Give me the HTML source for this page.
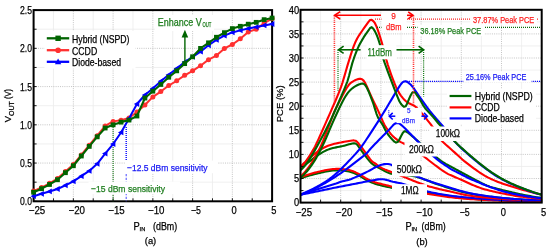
<!DOCTYPE html>
<html lang="en">
<head>
<meta charset="utf-8">
<title>Figure: VOUT and PCE versus PIN</title>
<style>
html,body{margin:0;padding:0;background:#fff;}
body{width:550px;height:250px;overflow:hidden;}
svg{display:block;}
</style>
</head>
<body>
<svg width="550" height="250" viewBox="0 0 550 250" font-family="'Liberation Sans', Arial, Helvetica, sans-serif">
<rect x="0" y="0" width="550" height="250" fill="#ffffff"/>
<g id="plot-a">
<line x1="53.48" y1="201.3" x2="53.48" y2="10.1" stroke="#ececec" stroke-width="0.8"/>
<line x1="93.23" y1="201.3" x2="93.23" y2="10.1" stroke="#ececec" stroke-width="0.8"/>
<line x1="132.98" y1="201.3" x2="132.98" y2="10.1" stroke="#ececec" stroke-width="0.8"/>
<line x1="172.73" y1="201.3" x2="172.73" y2="10.1" stroke="#ececec" stroke-width="0.8"/>
<line x1="212.48" y1="201.3" x2="212.48" y2="10.1" stroke="#ececec" stroke-width="0.8"/>
<line x1="252.23" y1="201.3" x2="252.23" y2="10.1" stroke="#ececec" stroke-width="0.8"/>
<line x1="33.6" y1="182.18" x2="272.1" y2="182.18" stroke="#ececec" stroke-width="0.8"/>
<line x1="33.6" y1="143.94" x2="272.1" y2="143.94" stroke="#ececec" stroke-width="0.8"/>
<line x1="33.6" y1="105.7" x2="272.1" y2="105.7" stroke="#ececec" stroke-width="0.8"/>
<line x1="33.6" y1="67.46" x2="272.1" y2="67.46" stroke="#ececec" stroke-width="0.8"/>
<line x1="33.6" y1="29.22" x2="272.1" y2="29.22" stroke="#ececec" stroke-width="0.8"/>
<line x1="73.35" y1="201.3" x2="73.35" y2="10.1" stroke="#b6b6b6" stroke-width="0.8" stroke-dasharray="1 1.2"/>
<line x1="113.1" y1="201.3" x2="113.1" y2="10.1" stroke="#b6b6b6" stroke-width="0.8" stroke-dasharray="1 1.2"/>
<line x1="152.85" y1="201.3" x2="152.85" y2="10.1" stroke="#b6b6b6" stroke-width="0.8" stroke-dasharray="1 1.2"/>
<line x1="192.6" y1="201.3" x2="192.6" y2="10.1" stroke="#b6b6b6" stroke-width="0.8" stroke-dasharray="1 1.2"/>
<line x1="232.35" y1="201.3" x2="232.35" y2="10.1" stroke="#b6b6b6" stroke-width="0.8" stroke-dasharray="1 1.2"/>
<line x1="33.6" y1="163.06" x2="272.1" y2="163.06" stroke="#b6b6b6" stroke-width="0.8" stroke-dasharray="1 1.2"/>
<line x1="33.6" y1="124.82" x2="272.1" y2="124.82" stroke="#b6b6b6" stroke-width="0.8" stroke-dasharray="1 1.2"/>
<line x1="33.6" y1="86.58" x2="272.1" y2="86.58" stroke="#b6b6b6" stroke-width="0.8" stroke-dasharray="1 1.2"/>
<line x1="33.6" y1="48.34" x2="272.1" y2="48.34" stroke="#b6b6b6" stroke-width="0.8" stroke-dasharray="1 1.2"/>
<rect x="33.6" y="10.1" width="238.5" height="191.2" fill="none" stroke="#000" stroke-width="2"/>
<line x1="33.6" y1="201.3" x2="33.6" y2="198.3" stroke="#000" stroke-width="0.9"/>
<line x1="53.48" y1="201.3" x2="53.48" y2="198.3" stroke="#000" stroke-width="0.9"/>
<line x1="73.35" y1="201.3" x2="73.35" y2="198.3" stroke="#000" stroke-width="0.9"/>
<line x1="93.23" y1="201.3" x2="93.23" y2="198.3" stroke="#000" stroke-width="0.9"/>
<line x1="113.1" y1="201.3" x2="113.1" y2="198.3" stroke="#000" stroke-width="0.9"/>
<line x1="132.98" y1="201.3" x2="132.98" y2="198.3" stroke="#000" stroke-width="0.9"/>
<line x1="152.85" y1="201.3" x2="152.85" y2="198.3" stroke="#000" stroke-width="0.9"/>
<line x1="172.73" y1="201.3" x2="172.73" y2="198.3" stroke="#000" stroke-width="0.9"/>
<line x1="192.6" y1="201.3" x2="192.6" y2="198.3" stroke="#000" stroke-width="0.9"/>
<line x1="212.48" y1="201.3" x2="212.48" y2="198.3" stroke="#000" stroke-width="0.9"/>
<line x1="232.35" y1="201.3" x2="232.35" y2="198.3" stroke="#000" stroke-width="0.9"/>
<line x1="252.23" y1="201.3" x2="252.23" y2="198.3" stroke="#000" stroke-width="0.9"/>
<line x1="272.1" y1="201.3" x2="272.1" y2="198.3" stroke="#000" stroke-width="0.9"/>
<line x1="33.6" y1="201.3" x2="36.6" y2="201.3" stroke="#000" stroke-width="0.9"/>
<line x1="33.6" y1="182.18" x2="36.6" y2="182.18" stroke="#000" stroke-width="0.9"/>
<line x1="33.6" y1="163.06" x2="36.6" y2="163.06" stroke="#000" stroke-width="0.9"/>
<line x1="33.6" y1="143.94" x2="36.6" y2="143.94" stroke="#000" stroke-width="0.9"/>
<line x1="33.6" y1="124.82" x2="36.6" y2="124.82" stroke="#000" stroke-width="0.9"/>
<line x1="33.6" y1="105.7" x2="36.6" y2="105.7" stroke="#000" stroke-width="0.9"/>
<line x1="33.6" y1="86.58" x2="36.6" y2="86.58" stroke="#000" stroke-width="0.9"/>
<line x1="33.6" y1="67.46" x2="36.6" y2="67.46" stroke="#000" stroke-width="0.9"/>
<line x1="33.6" y1="48.34" x2="36.6" y2="48.34" stroke="#000" stroke-width="0.9"/>
<line x1="33.6" y1="29.22" x2="36.6" y2="29.22" stroke="#000" stroke-width="0.9"/>
<line x1="33.6" y1="10.1" x2="36.6" y2="10.1" stroke="#000" stroke-width="0.9"/>
<line x1="113.1" y1="127" x2="113.1" y2="201.3" stroke="#1e7d1e" stroke-width="1.15" stroke-dasharray="1 1"/>
<line x1="126.2" y1="127" x2="126.2" y2="160" stroke="#0000ff" stroke-width="1.4" stroke-dasharray="1 1"/>
<line x1="126.2" y1="174" x2="126.2" y2="201.3" stroke="#5a5aff" stroke-width="1.1" stroke-dasharray="2.2 1.6"/>
<polyline points="33.6,191.05 41.55,187.53 49.5,183.33 57.45,178.59 65.4,171.55 73.35,164.59 81.3,154.88 89.25,145.24 97.2,135.68 105.15,125.97 113.1,121.38 121.05,120.23 129,117.94 136.95,112.05 144.9,104.94 152.85,96.9 160.8,91.55 168.75,85.51 176.7,80.77 184.65,75.34 192.6,70.83 200.55,65.7 208.5,59.66 216.45,55.61 224.4,48.42 232.35,44.52 240.3,38.86 248.25,31.9 256.2,29.22 264.15,23.1 272.1,18.51" fill="none" stroke="#ff3030" stroke-width="2" stroke-linejoin="round" stroke-linecap="round"/>
<circle cx="33.6" cy="191.05" r="2.5" fill="#ff3030"/>
<circle cx="41.55" cy="187.53" r="2.5" fill="#ff3030"/>
<circle cx="49.5" cy="183.33" r="2.5" fill="#ff3030"/>
<circle cx="57.45" cy="178.59" r="2.5" fill="#ff3030"/>
<circle cx="65.4" cy="171.55" r="2.5" fill="#ff3030"/>
<circle cx="73.35" cy="164.59" r="2.5" fill="#ff3030"/>
<circle cx="81.3" cy="154.88" r="2.5" fill="#ff3030"/>
<circle cx="89.25" cy="145.24" r="2.5" fill="#ff3030"/>
<circle cx="97.2" cy="135.68" r="2.5" fill="#ff3030"/>
<circle cx="105.15" cy="125.97" r="2.5" fill="#ff3030"/>
<circle cx="113.1" cy="121.38" r="2.5" fill="#ff3030"/>
<circle cx="121.05" cy="120.23" r="2.5" fill="#ff3030"/>
<circle cx="129" cy="117.94" r="2.5" fill="#ff3030"/>
<circle cx="136.95" cy="112.05" r="2.5" fill="#ff3030"/>
<circle cx="144.9" cy="104.94" r="2.5" fill="#ff3030"/>
<circle cx="152.85" cy="96.9" r="2.5" fill="#ff3030"/>
<circle cx="160.8" cy="91.55" r="2.5" fill="#ff3030"/>
<circle cx="168.75" cy="85.51" r="2.5" fill="#ff3030"/>
<circle cx="176.7" cy="80.77" r="2.5" fill="#ff3030"/>
<circle cx="184.65" cy="75.34" r="2.5" fill="#ff3030"/>
<circle cx="192.6" cy="70.83" r="2.5" fill="#ff3030"/>
<circle cx="200.55" cy="65.7" r="2.5" fill="#ff3030"/>
<circle cx="208.5" cy="59.66" r="2.5" fill="#ff3030"/>
<circle cx="216.45" cy="55.61" r="2.5" fill="#ff3030"/>
<circle cx="224.4" cy="48.42" r="2.5" fill="#ff3030"/>
<circle cx="232.35" cy="44.52" r="2.5" fill="#ff3030"/>
<circle cx="240.3" cy="38.86" r="2.5" fill="#ff3030"/>
<circle cx="248.25" cy="31.9" r="2.5" fill="#ff3030"/>
<circle cx="256.2" cy="29.22" r="2.5" fill="#ff3030"/>
<circle cx="264.15" cy="23.1" r="2.5" fill="#ff3030"/>
<circle cx="272.1" cy="18.51" r="2.5" fill="#ff3030"/>
<polyline points="33.6,196.18 41.55,193.8 49.5,191.43 57.45,188.99 65.4,185.32 73.35,181.34 81.3,176.21 89.25,170.94 97.2,163.82 105.15,153.58 113.1,144.02 121.05,132.47 129,118.4 136.95,104.02 144.9,94.99 152.85,88.42 160.8,81.23 168.75,74.8 176.7,68.45 184.65,62.11 192.6,56.91 200.55,51.63 208.5,45.28 216.45,39.93 224.4,35.64 232.35,32.43 240.3,30.37 248.25,28.46 256.2,27.08 264.15,25.4 272.1,24.02" fill="none" stroke="#0000ff" stroke-width="2" stroke-linejoin="round" stroke-linecap="round"/>
<polygon points="30.5,196.18 35.9,193.28 35.9,199.08" fill="#0000ff"/>
<polygon points="38.45,193.8 43.85,190.9 43.85,196.7" fill="#0000ff"/>
<polygon points="46.4,191.43 51.8,188.53 51.8,194.33" fill="#0000ff"/>
<polygon points="54.35,188.99 59.75,186.09 59.75,191.89" fill="#0000ff"/>
<polygon points="62.3,185.32 67.7,182.42 67.7,188.22" fill="#0000ff"/>
<polygon points="70.25,181.34 75.65,178.44 75.65,184.24" fill="#0000ff"/>
<polygon points="78.2,176.21 83.6,173.31 83.6,179.11" fill="#0000ff"/>
<polygon points="86.15,170.94 91.55,168.04 91.55,173.84" fill="#0000ff"/>
<polygon points="94.1,163.82 99.5,160.92 99.5,166.72" fill="#0000ff"/>
<polygon points="102.05,153.58 107.45,150.68 107.45,156.48" fill="#0000ff"/>
<polygon points="110,144.02 115.4,141.12 115.4,146.92" fill="#0000ff"/>
<polygon points="117.95,132.47 123.35,129.57 123.35,135.37" fill="#0000ff"/>
<polygon points="125.9,118.4 131.3,115.5 131.3,121.3" fill="#0000ff"/>
<polygon points="133.85,104.02 139.25,101.12 139.25,106.92" fill="#0000ff"/>
<polygon points="141.8,94.99 147.2,92.09 147.2,97.89" fill="#0000ff"/>
<polygon points="149.75,88.42 155.15,85.52 155.15,91.32" fill="#0000ff"/>
<polygon points="157.7,81.23 163.1,78.33 163.1,84.13" fill="#0000ff"/>
<polygon points="165.65,74.8 171.05,71.9 171.05,77.7" fill="#0000ff"/>
<polygon points="173.6,68.45 179,65.55 179,71.35" fill="#0000ff"/>
<polygon points="181.55,62.11 186.95,59.21 186.95,65.01" fill="#0000ff"/>
<polygon points="189.5,56.91 194.9,54.01 194.9,59.81" fill="#0000ff"/>
<polygon points="197.45,51.63 202.85,48.73 202.85,54.53" fill="#0000ff"/>
<polygon points="205.4,45.28 210.8,42.38 210.8,48.18" fill="#0000ff"/>
<polygon points="213.35,39.93 218.75,37.03 218.75,42.83" fill="#0000ff"/>
<polygon points="221.3,35.64 226.7,32.74 226.7,38.54" fill="#0000ff"/>
<polygon points="229.25,32.43 234.65,29.53 234.65,35.33" fill="#0000ff"/>
<polygon points="237.2,30.37 242.6,27.47 242.6,33.27" fill="#0000ff"/>
<polygon points="245.15,28.46 250.55,25.56 250.55,31.36" fill="#0000ff"/>
<polygon points="253.1,27.08 258.5,24.18 258.5,29.98" fill="#0000ff"/>
<polygon points="261.05,25.4 266.45,22.5 266.45,28.3" fill="#0000ff"/>
<polygon points="269,24.02 274.4,21.12 274.4,26.92" fill="#0000ff"/>
<polyline points="33.6,192.2 41.55,188.68 49.5,184.47 57.45,179.73 65.4,172.7 73.35,165.74 81.3,156.02 89.25,146.39 97.2,136.83 105.15,128.03 113.1,124.82 121.05,122.14 129,120.08 136.95,116.02 144.9,98.05 152.85,91.17 160.8,84.44 168.75,77.25 176.7,70.83 184.65,63.64 192.6,56.75 200.55,48.42 208.5,42.83 216.45,37.25 224.4,32.66 232.35,28.61 240.3,26.31 248.25,24.17 256.2,22.34 264.15,19.66 272.1,18.05" fill="none" stroke="#006400" stroke-width="2.1" stroke-linejoin="round" stroke-linecap="round"/>
<rect x="31.2" y="189.8" width="4.8" height="4.8" fill="#006400"/>
<rect x="39.15" y="186.28" width="4.8" height="4.8" fill="#006400"/>
<rect x="47.1" y="182.07" width="4.8" height="4.8" fill="#006400"/>
<rect x="55.05" y="177.33" width="4.8" height="4.8" fill="#006400"/>
<rect x="63" y="170.3" width="4.8" height="4.8" fill="#006400"/>
<rect x="70.95" y="163.34" width="4.8" height="4.8" fill="#006400"/>
<rect x="78.9" y="153.62" width="4.8" height="4.8" fill="#006400"/>
<rect x="86.85" y="143.99" width="4.8" height="4.8" fill="#006400"/>
<rect x="94.8" y="134.43" width="4.8" height="4.8" fill="#006400"/>
<rect x="102.75" y="125.63" width="4.8" height="4.8" fill="#006400"/>
<rect x="110.7" y="122.42" width="4.8" height="4.8" fill="#006400"/>
<rect x="118.65" y="119.74" width="4.8" height="4.8" fill="#006400"/>
<rect x="126.6" y="117.68" width="4.8" height="4.8" fill="#006400"/>
<rect x="134.55" y="113.62" width="4.8" height="4.8" fill="#006400"/>
<rect x="142.5" y="95.65" width="4.8" height="4.8" fill="#006400"/>
<rect x="150.45" y="88.77" width="4.8" height="4.8" fill="#006400"/>
<rect x="158.4" y="82.04" width="4.8" height="4.8" fill="#006400"/>
<rect x="166.35" y="74.85" width="4.8" height="4.8" fill="#006400"/>
<rect x="174.3" y="68.43" width="4.8" height="4.8" fill="#006400"/>
<rect x="182.25" y="61.24" width="4.8" height="4.8" fill="#006400"/>
<rect x="190.2" y="54.35" width="4.8" height="4.8" fill="#006400"/>
<rect x="198.15" y="46.02" width="4.8" height="4.8" fill="#006400"/>
<rect x="206.1" y="40.43" width="4.8" height="4.8" fill="#006400"/>
<rect x="214.05" y="34.85" width="4.8" height="4.8" fill="#006400"/>
<rect x="222" y="30.26" width="4.8" height="4.8" fill="#006400"/>
<rect x="229.95" y="26.21" width="4.8" height="4.8" fill="#006400"/>
<rect x="237.9" y="23.91" width="4.8" height="4.8" fill="#006400"/>
<rect x="245.85" y="21.77" width="4.8" height="4.8" fill="#006400"/>
<rect x="253.8" y="19.94" width="4.8" height="4.8" fill="#006400"/>
<rect x="261.75" y="17.26" width="4.8" height="4.8" fill="#006400"/>
<rect x="269.7" y="15.65" width="4.8" height="4.8" fill="#006400"/>
<text x="32" y="205.3" font-size="11" fill="#000" stroke="#000" stroke-width="0.25" text-anchor="end" textLength="12" lengthAdjust="spacingAndGlyphs">0.0</text>
<text x="32" y="167.06" font-size="11" fill="#000" stroke="#000" stroke-width="0.25" text-anchor="end" textLength="12" lengthAdjust="spacingAndGlyphs">0.5</text>
<text x="32" y="128.82" font-size="11" fill="#000" stroke="#000" stroke-width="0.25" text-anchor="end" textLength="12" lengthAdjust="spacingAndGlyphs">1.0</text>
<text x="32" y="90.58" font-size="11" fill="#000" stroke="#000" stroke-width="0.25" text-anchor="end" textLength="12" lengthAdjust="spacingAndGlyphs">1.5</text>
<text x="32" y="52.34" font-size="11" fill="#000" stroke="#000" stroke-width="0.25" text-anchor="end" textLength="12" lengthAdjust="spacingAndGlyphs">2.0</text>
<text x="32" y="14.1" font-size="11" fill="#000" stroke="#000" stroke-width="0.25" text-anchor="end" textLength="12" lengthAdjust="spacingAndGlyphs">2.5</text>
<text x="37" y="214.2" font-size="10.8" fill="#000" stroke="#000" stroke-width="0.25" text-anchor="middle" textLength="16.5" lengthAdjust="spacingAndGlyphs">−25</text>
<text x="76.75" y="214.2" font-size="10.8" fill="#000" stroke="#000" stroke-width="0.25" text-anchor="middle" textLength="16.5" lengthAdjust="spacingAndGlyphs">−20</text>
<text x="116.5" y="214.2" font-size="10.8" fill="#000" stroke="#000" stroke-width="0.25" text-anchor="middle" textLength="16.5" lengthAdjust="spacingAndGlyphs">−15</text>
<text x="156.25" y="214.2" font-size="10.8" fill="#000" stroke="#000" stroke-width="0.25" text-anchor="middle" textLength="16.5" lengthAdjust="spacingAndGlyphs">−10</text>
<text x="196" y="214.2" font-size="10.8" fill="#000" stroke="#000" stroke-width="0.25" text-anchor="middle" textLength="10" lengthAdjust="spacingAndGlyphs">−5</text>
<text x="234.15" y="214.2" font-size="10.8" fill="#000" stroke="#000" stroke-width="0.25" text-anchor="middle" textLength="5.2" lengthAdjust="spacingAndGlyphs">0</text>
<text x="273.9" y="214.2" font-size="10.8" fill="#000" stroke="#000" stroke-width="0.25" text-anchor="middle" textLength="5.2" lengthAdjust="spacingAndGlyphs">5</text>
<text x="133.6" y="230.3" font-size="10" fill="#000" stroke="#000" stroke-width="0.25" textLength="6.2" lengthAdjust="spacingAndGlyphs">P</text>
<text x="139.6" y="231.3" font-size="6" fill="#000" stroke="#000" stroke-width="0.25" textLength="5.6" lengthAdjust="spacingAndGlyphs">IN</text>
<text x="153" y="230.3" font-size="10" fill="#000" stroke="#000" stroke-width="0.25" textLength="24.2" lengthAdjust="spacingAndGlyphs">(dBm)</text>
<text x="150.5" y="244.3" font-size="9.5" fill="#000" stroke="#000" stroke-width="0.25" text-anchor="middle" textLength="11.5" lengthAdjust="spacingAndGlyphs">(a)</text>
<g transform="translate(11.4,122.2) rotate(-90)">
<text x="0" y="0" font-size="9.6" fill="#000" stroke="#000" stroke-width="0.25" textLength="6.2" lengthAdjust="spacingAndGlyphs">V</text>
<text x="6.2" y="2.9" font-size="6.9" fill="#000" stroke="#000" stroke-width="0.25" textLength="14.8" lengthAdjust="spacingAndGlyphs">OUT</text>
<text x="23.3" y="0" font-size="9.6" fill="#000" stroke="#000" stroke-width="0.25" textLength="10" lengthAdjust="spacingAndGlyphs">(V)</text>
</g>
<rect x="44.5" y="31" width="91" height="37.5" fill="#fff"/>
<line x1="46.8" y1="38.3" x2="69.2" y2="38.3" stroke="#006400" stroke-width="2.3"/>
<rect x="55.4" y="35.6" width="5.4" height="5.4" fill="#006400"/>
<text x="72" y="42.6" font-size="10.3" fill="#000" stroke="#000" stroke-width="0.25" textLength="57.5" lengthAdjust="spacingAndGlyphs">Hybrid (NSPD)</text>
<line x1="46.8" y1="50.2" x2="69.2" y2="50.2" stroke="#ff3030" stroke-width="2.3"/>
<circle cx="58.1" cy="50.2" r="2.8" fill="#ff3030"/>
<text x="72" y="54.5" font-size="10.3" fill="#000" stroke="#000" stroke-width="0.25" textLength="25.2" lengthAdjust="spacingAndGlyphs">CCDD</text>
<line x1="46.8" y1="61.8" x2="69.2" y2="61.8" stroke="#0000ff" stroke-width="2.3"/>
<polygon points="58.1,58.4 54.9,64.3 61.3,64.3" fill="#0000ff"/>
<text x="72" y="66.1" font-size="10.3" fill="#000" stroke="#000" stroke-width="0.25" textLength="49" lengthAdjust="spacingAndGlyphs">Diode-based</text>
<rect x="155" y="15" width="59" height="16" fill="#fff"/>
<text x="157.8" y="25.6" font-size="10.3" fill="#1e7d1e" stroke="#1e7d1e" stroke-width="0.25" textLength="44" lengthAdjust="spacingAndGlyphs">Enhance V</text>
<text x="202.4" y="26.5" font-size="6.3" fill="#1e7d1e" stroke="#1e7d1e" stroke-width="0.25" textLength="8.8" lengthAdjust="spacingAndGlyphs">OUT</text>
<line x1="184.9" y1="63" x2="184.9" y2="34" stroke="#006400" stroke-width="1.4"/>
<polygon points="184.9,29.8 181.6,37.4 188.2,37.4" fill="#006400"/>
<rect x="88.5" y="181.6" width="91.5" height="12.4" fill="#fff"/>
<rect x="125" y="160.6" width="93" height="12.6" fill="#fff"/>
<text x="91" y="192" font-size="9.6" fill="#1e7d1e" stroke="#1e7d1e" stroke-width="0.25" textLength="74" lengthAdjust="spacingAndGlyphs">−15 dBm sensitivity</text>
<text x="127" y="170.8" font-size="9.6" fill="#1818f4" stroke="#1818f4" stroke-width="0.25" textLength="80.5" lengthAdjust="spacingAndGlyphs">−12.5 dBm sensitivity</text>
</g>
<g id="plot-b">
<line x1="320.6" y1="202.6" x2="320.6" y2="9.8" stroke="#ececec" stroke-width="0.8"/>
<line x1="360.8" y1="202.6" x2="360.8" y2="9.8" stroke="#ececec" stroke-width="0.8"/>
<line x1="401" y1="202.6" x2="401" y2="9.8" stroke="#ececec" stroke-width="0.8"/>
<line x1="441.2" y1="202.6" x2="441.2" y2="9.8" stroke="#ececec" stroke-width="0.8"/>
<line x1="481.4" y1="202.6" x2="481.4" y2="9.8" stroke="#ececec" stroke-width="0.8"/>
<line x1="521.6" y1="202.6" x2="521.6" y2="9.8" stroke="#ececec" stroke-width="0.8"/>
<line x1="300.5" y1="190.55" x2="541.7" y2="190.55" stroke="#ececec" stroke-width="0.8"/>
<line x1="300.5" y1="166.45" x2="541.7" y2="166.45" stroke="#ececec" stroke-width="0.8"/>
<line x1="300.5" y1="142.35" x2="541.7" y2="142.35" stroke="#ececec" stroke-width="0.8"/>
<line x1="300.5" y1="118.25" x2="541.7" y2="118.25" stroke="#ececec" stroke-width="0.8"/>
<line x1="300.5" y1="94.15" x2="541.7" y2="94.15" stroke="#ececec" stroke-width="0.8"/>
<line x1="300.5" y1="70.05" x2="541.7" y2="70.05" stroke="#ececec" stroke-width="0.8"/>
<line x1="300.5" y1="45.95" x2="541.7" y2="45.95" stroke="#ececec" stroke-width="0.8"/>
<line x1="300.5" y1="21.85" x2="541.7" y2="21.85" stroke="#ececec" stroke-width="0.8"/>
<line x1="340.7" y1="202.6" x2="340.7" y2="9.8" stroke="#b6b6b6" stroke-width="0.8" stroke-dasharray="1 1.2"/>
<line x1="380.9" y1="202.6" x2="380.9" y2="9.8" stroke="#b6b6b6" stroke-width="0.8" stroke-dasharray="1 1.2"/>
<line x1="421.1" y1="202.6" x2="421.1" y2="9.8" stroke="#b6b6b6" stroke-width="0.8" stroke-dasharray="1 1.2"/>
<line x1="461.3" y1="202.6" x2="461.3" y2="9.8" stroke="#b6b6b6" stroke-width="0.8" stroke-dasharray="1 1.2"/>
<line x1="501.5" y1="202.6" x2="501.5" y2="9.8" stroke="#b6b6b6" stroke-width="0.8" stroke-dasharray="1 1.2"/>
<line x1="300.5" y1="178.5" x2="541.7" y2="178.5" stroke="#b6b6b6" stroke-width="0.8" stroke-dasharray="1 1.2"/>
<line x1="300.5" y1="154.4" x2="541.7" y2="154.4" stroke="#b6b6b6" stroke-width="0.8" stroke-dasharray="1 1.2"/>
<line x1="300.5" y1="130.3" x2="541.7" y2="130.3" stroke="#b6b6b6" stroke-width="0.8" stroke-dasharray="1 1.2"/>
<line x1="300.5" y1="106.2" x2="541.7" y2="106.2" stroke="#b6b6b6" stroke-width="0.8" stroke-dasharray="1 1.2"/>
<line x1="300.5" y1="82.1" x2="541.7" y2="82.1" stroke="#b6b6b6" stroke-width="0.8" stroke-dasharray="1 1.2"/>
<line x1="300.5" y1="58" x2="541.7" y2="58" stroke="#b6b6b6" stroke-width="0.8" stroke-dasharray="1 1.2"/>
<line x1="300.5" y1="33.9" x2="541.7" y2="33.9" stroke="#b6b6b6" stroke-width="0.8" stroke-dasharray="1 1.2"/>
<clipPath id="clipb"><rect x="300.5" y="9.8" width="241.2" height="192.8"/></clipPath>
<g clip-path="url(#clipb)">
<polyline points="300.5,178.5 302.12,177.92 303.74,177.37 305.36,176.83 306.98,176.32 308.59,175.83 310.21,175.36 311.83,174.91 313.45,174.48 315.07,174.06 316.69,173.65 318.31,173.26 319.93,172.87 321.54,172.5 323.16,172.15 324.78,171.83 326.4,171.53 328.02,171.26 329.64,171 331.26,170.76 332.88,170.56 334.49,170.43 336.11,170.34 337.73,170.31 339.35,170.33 340.97,170.41 342.59,170.55 344.21,170.73 345.83,170.93 347.44,171.18 349.06,171.5 350.68,171.9 352.3,172.42 353.92,173.05 355.54,173.77 357.16,174.55 358.78,175.39 360.4,176.28 362.01,177.28 363.63,178.31 365.25,179.32 366.87,180.24 368.49,181.05 370.11,181.8 371.73,182.49 373.35,183.13 374.96,183.7 376.58,184.2 378.2,184.65 379.82,185.08 381.44,185.5 383.06,185.9 384.68,186.29 386.3,186.65 387.91,187 389.53,187.32 391.15,187.62 392.77,187.91 394.39,188.19 396.01,188.48 397.63,188.76 399.25,189.04 400.87,189.31 402.48,189.58 404.1,189.83 405.72,190.08 407.34,190.32 408.96,190.54 410.58,190.75 412.2,190.97 413.82,191.18 415.43,191.39 417.05,191.6 418.67,191.81 420.29,192.02 421.91,192.23 423.53,192.44 425.15,192.65 426.77,192.86 428.38,193.07 430,193.29 431.62,193.51 433.24,193.73 434.86,193.95 436.48,194.18 438.1,194.4 439.72,194.63 441.33,194.86 442.95,195.08 444.57,195.31 446.19,195.54 447.81,195.76 449.43,195.99 451.05,196.21 452.67,196.43 454.29,196.65 455.9,196.87 457.52,197.09 459.14,197.3 460.76,197.51 462.38,197.71 464,197.91 465.62,198.1 467.24,198.27 468.85,198.43 470.47,198.58 472.09,198.72 473.71,198.85 475.33,198.97 476.95,199.08 478.57,199.19 480.19,199.28 481.8,199.37 483.42,199.46 485.04,199.54 486.66,199.61 488.28,199.68 489.9,199.75 491.52,199.81 493.14,199.87 494.76,199.93 496.37,199.99 497.99,200.05 499.61,200.12 501.23,200.18 502.85,200.24 504.47,200.31 506.09,200.37 507.71,200.43 509.32,200.49 510.94,200.56 512.56,200.62 514.18,200.67 515.8,200.73 517.42,200.79 519.04,200.84 520.66,200.89 522.27,200.95 523.89,200.99 525.51,201.04 527.13,201.09 528.75,201.13 530.37,201.17 531.99,201.21 533.61,201.25 535.22,201.28 536.84,201.32 538.46,201.34 540.08,201.37 541.7,201.39" fill="none" stroke="#006400" stroke-width="2.1" stroke-linejoin="round" stroke-linecap="round"/>
<polyline points="300.5,177.05 302.12,176.48 303.74,175.92 305.36,175.39 306.98,174.88 308.59,174.39 310.21,173.92 311.83,173.47 313.45,173.03 315.07,172.61 316.69,172.21 318.31,171.81 319.93,171.43 321.54,171.06 323.16,170.71 324.78,170.39 326.4,170.09 328.02,169.81 329.64,169.55 331.26,169.31 332.88,169.12 334.49,168.98 336.11,168.9 337.73,168.86 339.35,168.88 340.97,168.97 342.59,169.11 344.21,169.28 345.83,169.48 347.44,169.73 349.06,170.05 350.68,170.46 352.3,170.97 353.92,171.6 355.54,172.32 357.16,173.11 358.78,173.94 360.4,174.84 362.01,175.84 363.63,176.87 365.25,177.88 366.87,178.8 368.49,179.6 370.11,180.35 371.73,181.06 373.35,181.7 374.96,182.27 376.58,182.76 378.2,183.18 379.82,183.6 381.44,184.02 383.06,184.43 384.68,184.83 386.3,185.23 387.91,185.63 389.53,186.02 391.15,186.41 392.77,186.79 394.39,187.17 396.01,187.55 397.63,187.94 399.25,188.32 400.87,188.7 402.48,189.07 404.1,189.44 405.72,189.81 407.34,190.17 408.96,190.53 410.58,190.88 412.2,191.21 413.82,191.54 415.43,191.85 417.05,192.15 418.67,192.44 420.29,192.72 421.91,193 423.53,193.27 425.15,193.54 426.77,193.8 428.38,194.06 430,194.32 431.62,194.57 433.24,194.83 434.86,195.07 436.48,195.32 438.1,195.56 439.72,195.79 441.33,196.02 442.95,196.25 444.57,196.47 446.19,196.68 447.81,196.89 449.43,197.09 451.05,197.29 452.67,197.48 454.29,197.66 455.9,197.84 457.52,198 459.14,198.16 460.76,198.32 462.38,198.46 464,198.59 465.62,198.72 467.24,198.85 468.85,198.97 470.47,199.09 472.09,199.2 473.71,199.31 475.33,199.42 476.95,199.52 478.57,199.62 480.19,199.72 481.8,199.81 483.42,199.89 485.04,199.98 486.66,200.06 488.28,200.14 489.9,200.21 491.52,200.29 493.14,200.36 494.76,200.42 496.37,200.49 497.99,200.55 499.61,200.61 501.23,200.66 502.85,200.72 504.47,200.77 506.09,200.82 507.71,200.88 509.32,200.93 510.94,200.98 512.56,201.03 514.18,201.08 515.8,201.13 517.42,201.17 519.04,201.22 520.66,201.26 522.27,201.3 523.89,201.34 525.51,201.38 527.13,201.42 528.75,201.45 530.37,201.48 531.99,201.51 533.61,201.54 535.22,201.56 536.84,201.59 538.46,201.6 540.08,201.62 541.7,201.64" fill="none" stroke="#ff0000" stroke-width="2.1" stroke-linejoin="round" stroke-linecap="round"/>
<polyline points="300.5,194.7 302.12,194.38 303.74,194.07 305.36,193.75 306.98,193.43 308.59,193.11 310.21,192.79 311.83,192.47 313.45,192.15 315.07,191.82 316.69,191.49 318.31,191.16 319.93,190.82 321.54,190.48 323.16,190.14 324.78,189.79 326.4,189.45 328.02,189.1 329.64,188.76 331.26,188.42 332.88,188.09 334.49,187.77 336.11,187.46 337.73,187.14 339.35,186.82 340.97,186.51 342.59,186.19 344.21,185.88 345.83,185.56 347.44,185.25 349.06,184.93 350.68,184.62 352.3,184.3 353.92,183.99 355.54,183.67 357.16,183.35 358.78,183.04 360.4,182.72 362.01,182.41 363.63,182.09 365.25,181.78 366.87,181.46 368.49,181.15 370.11,180.84 371.73,180.53 373.35,180.22 374.96,179.92 376.58,179.61 378.2,179.39 379.82,179.26 381.44,179.22 383.06,179.3 384.68,179.53 386.3,179.89 387.91,180.35 389.53,180.87 391.15,181.34 392.77,181.73 394.39,182.08 396.01,182.4 397.63,182.72 399.25,183.05 400.87,183.39 402.48,183.77 404.1,184.19 405.72,184.65 407.34,185.14 408.96,185.65 410.58,186.18 412.2,186.73 413.82,187.29 415.43,187.84 417.05,188.4 418.67,188.94 420.29,189.48 421.91,189.99 423.53,190.47 425.15,190.92 426.77,191.33 428.38,191.71 430,192.07 431.62,192.42 433.24,192.75 434.86,193.08 436.48,193.39 438.1,193.7 439.72,193.99 441.33,194.28 442.95,194.55 444.57,194.81 446.19,195.06 447.81,195.31 449.43,195.54 451.05,195.76 452.67,195.97 454.29,196.18 455.9,196.37 457.52,196.56 459.14,196.73 460.76,196.9 462.38,197.06 464,197.21 465.62,197.35 467.24,197.5 468.85,197.65 470.47,197.79 472.09,197.93 473.71,198.07 475.33,198.21 476.95,198.34 478.57,198.47 480.19,198.6 481.8,198.73 483.42,198.85 485.04,198.97 486.66,199.08 488.28,199.2 489.9,199.3 491.52,199.41 493.14,199.51 494.76,199.6 496.37,199.69 497.99,199.78 499.61,199.86 501.23,199.94 502.85,200.01 504.47,200.08 506.09,200.15 507.71,200.22 509.32,200.29 510.94,200.35 512.56,200.42 514.18,200.48 515.8,200.54 517.42,200.6 519.04,200.65 520.66,200.71 522.27,200.76 523.89,200.81 525.51,200.85 527.13,200.9 528.75,200.94 530.37,200.98 531.99,201.01 533.61,201.04 535.22,201.07 536.84,201.1 538.46,201.12 540.08,201.14 541.7,201.15" fill="none" stroke="#0000ff" stroke-width="2.1" stroke-linejoin="round" stroke-linecap="round"/>
<polyline points="300.5,168.86 302.12,167.47 303.74,166.11 305.36,164.78 306.98,163.47 308.59,162.18 310.21,160.91 311.83,159.64 313.45,158.4 315.07,157.2 316.69,156.04 318.31,154.93 319.93,153.87 321.54,152.87 323.16,151.94 324.78,151.09 326.4,150.32 328.02,149.63 329.64,149.03 331.26,148.51 332.88,148.08 334.49,147.71 336.11,147.36 337.73,147.04 339.35,146.72 340.97,146.39 342.59,146.04 344.21,145.65 345.83,145.23 347.44,144.79 349.06,144.35 350.68,143.92 352.3,143.55 353.92,143.34 355.54,143.51 357.16,144.72 358.78,146.85 360.4,149.09 362.01,151.34 363.63,153.51 365.25,155.65 366.87,157.78 368.49,159.85 370.11,161.74 371.73,163.39 373.35,164.72 374.96,165.79 376.58,166.68 378.2,167.51 379.82,168.35 381.44,169.24 383.06,170.15 384.68,171.04 386.3,171.88 387.91,172.61 389.53,173.21 391.15,173.64 392.77,173.92 394.39,174.12 396.01,174.29 397.63,174.42 399.25,174.54 400.87,174.67 402.48,174.83 404.1,175.01 405.72,175.2 407.34,175.39 408.96,175.58 410.58,175.78 412.2,175.98 413.82,176.2 415.43,176.52 417.05,176.95 418.67,177.46 420.29,177.99 421.91,178.56 423.53,179.14 425.15,179.74 426.77,180.35 428.38,180.97 430,181.59 431.62,182.2 433.24,182.81 434.86,183.4 436.48,183.98 438.1,184.54 439.72,185.07 441.33,185.6 442.95,186.12 444.57,186.65 446.19,187.16 447.81,187.67 449.43,188.17 451.05,188.67 452.67,189.16 454.29,189.63 455.9,190.1 457.52,190.56 459.14,191.01 460.76,191.44 462.38,191.86 464,192.27 465.62,192.65 467.24,193.02 468.85,193.37 470.47,193.71 472.09,194.02 473.71,194.33 475.33,194.61 476.95,194.89 478.57,195.15 480.19,195.4 481.8,195.63 483.42,195.86 485.04,196.08 486.66,196.28 488.28,196.48 489.9,196.68 491.52,196.87 493.14,197.05 494.76,197.23 496.37,197.41 497.99,197.58 499.61,197.75 501.23,197.91 502.85,198.07 504.47,198.22 506.09,198.37 507.71,198.52 509.32,198.66 510.94,198.79 512.56,198.92 514.18,199.05 515.8,199.17 517.42,199.29 519.04,199.4 520.66,199.51 522.27,199.61 523.89,199.71 525.51,199.8 527.13,199.89 528.75,199.97 530.37,200.05 531.99,200.12 533.61,200.18 535.22,200.24 536.84,200.3 538.46,200.35 540.08,200.39 541.7,200.43" fill="none" stroke="#006400" stroke-width="2.1" stroke-linejoin="round" stroke-linecap="round"/>
<polyline points="300.5,166.45 302.12,164.9 303.74,163.38 305.36,161.91 306.98,160.46 308.59,159.05 310.21,157.65 311.83,156.26 313.45,154.91 315.07,153.6 316.69,152.35 318.31,151.16 319.93,150.05 321.54,149.01 323.16,148.06 324.78,147.21 326.4,146.44 328.02,145.75 329.64,145.16 331.26,144.65 332.88,144.23 334.49,143.84 336.11,143.47 337.73,143.11 339.35,142.76 340.97,142.43 342.59,142.11 344.21,141.82 345.83,141.53 347.44,141.26 349.06,141 350.68,140.74 352.3,140.52 353.92,140.42 355.54,140.68 357.16,141.88 358.78,143.79 360.4,145.81 362.01,147.94 363.63,150.17 365.25,152.43 366.87,154.7 368.49,156.96 370.11,159.23 371.73,161.16 373.35,162.35 374.96,163.28 376.58,164.45 378.2,165.76 379.82,166.86 381.44,167.81 383.06,168.64 384.68,169.38 386.3,170.05 387.91,170.68 389.53,171.29 391.15,171.91 392.77,172.55 394.39,173.19 396.01,173.83 397.63,174.47 399.25,175.1 400.87,175.74 402.48,176.37 404.1,177 405.72,177.64 407.34,178.29 408.96,178.95 410.58,179.6 412.2,180.26 413.82,180.91 415.43,181.56 417.05,182.2 418.67,182.83 420.29,183.44 421.91,184.03 423.53,184.61 425.15,185.16 426.77,185.68 428.38,186.18 430,186.66 431.62,187.11 433.24,187.55 434.86,187.97 436.48,188.38 438.1,188.78 439.72,189.16 441.33,189.54 442.95,189.9 444.57,190.27 446.19,190.62 447.81,190.98 449.43,191.34 451.05,191.69 452.67,192.05 454.29,192.41 455.9,192.78 457.52,193.16 459.14,193.54 460.76,193.92 462.38,194.29 464,194.64 465.62,194.97 467.24,195.27 468.85,195.55 470.47,195.81 472.09,196.06 473.71,196.28 475.33,196.49 476.95,196.69 478.57,196.87 480.19,197.04 481.8,197.21 483.42,197.37 485.04,197.52 486.66,197.66 488.28,197.81 489.9,197.95 491.52,198.09 493.14,198.23 494.76,198.36 496.37,198.49 497.99,198.62 499.61,198.75 501.23,198.87 502.85,198.98 504.47,199.1 506.09,199.21 507.71,199.32 509.32,199.42 510.94,199.52 512.56,199.61 514.18,199.71 515.8,199.79 517.42,199.88 519.04,199.96 520.66,200.04 522.27,200.11 523.89,200.18 525.51,200.25 527.13,200.31 528.75,200.36 530.37,200.42 531.99,200.47 533.61,200.51 535.22,200.55 536.84,200.59 538.46,200.62 540.08,200.65 541.7,200.67" fill="none" stroke="#ff0000" stroke-width="2.1" stroke-linejoin="round" stroke-linecap="round"/>
<polyline points="300.5,194.7 302.12,194.18 303.74,193.66 305.36,193.15 306.98,192.63 308.59,192.12 310.21,191.6 311.83,191.09 313.45,190.58 315.07,190.06 316.69,189.55 318.31,189.04 319.93,188.53 321.54,188.02 323.16,187.52 324.78,187.01 326.4,186.51 328.02,186.01 329.64,185.5 331.26,185 332.88,184.49 334.49,183.98 336.11,183.46 337.73,182.9 339.35,182.33 340.97,181.79 342.59,181.31 344.21,180.9 345.83,180.52 347.44,180.13 349.06,179.69 350.68,179.16 352.3,178.53 353.92,177.85 355.54,177.15 357.16,176.42 358.78,175.68 360.4,174.94 362.01,174.2 363.63,173.45 365.25,172.69 366.87,171.92 368.49,171.12 370.11,170.25 371.73,169.33 373.35,168.41 374.96,167.51 376.58,166.68 378.2,165.97 379.82,165.37 381.44,164.84 383.06,164.41 384.68,164.16 386.3,164.04 387.91,164.06 389.53,164.25 391.15,164.73 392.77,165.45 394.39,166.22 396.01,166.99 397.63,167.77 399.25,168.54 400.87,169.28 402.48,170.01 404.1,170.73 405.72,171.46 407.34,172.19 408.96,172.92 410.58,173.64 412.2,174.35 413.82,175.05 415.43,175.75 417.05,176.43 418.67,177.09 420.29,177.74 421.91,178.38 423.53,179 425.15,179.61 426.77,180.21 428.38,180.79 430,181.36 431.62,181.92 433.24,182.47 434.86,183.01 436.48,183.54 438.1,184.06 439.72,184.58 441.33,185.09 442.95,185.59 444.57,186.09 446.19,186.59 447.81,187.08 449.43,187.57 451.05,188.06 452.67,188.55 454.29,189.03 455.9,189.51 457.52,190 459.14,190.47 460.76,190.93 462.38,191.37 464,191.8 465.62,192.2 467.24,192.59 468.85,192.95 470.47,193.3 472.09,193.63 473.71,193.95 475.33,194.24 476.95,194.53 478.57,194.8 480.19,195.06 481.8,195.31 483.42,195.55 485.04,195.79 486.66,196.01 488.28,196.23 489.9,196.45 491.52,196.66 493.14,196.86 494.76,197.06 496.37,197.25 497.99,197.43 499.61,197.61 501.23,197.78 502.85,197.95 504.47,198.11 506.09,198.27 507.71,198.42 509.32,198.56 510.94,198.7 512.56,198.83 514.18,198.96 515.8,199.08 517.42,199.2 519.04,199.31 520.66,199.41 522.27,199.51 523.89,199.61 525.51,199.7 527.13,199.78 528.75,199.86 530.37,199.93 531.99,200 533.61,200.06 535.22,200.11 536.84,200.16 538.46,200.21 540.08,200.25 541.7,200.29" fill="none" stroke="#0000ff" stroke-width="2.1" stroke-linejoin="round" stroke-linecap="round"/>
<polyline points="300.5,176.57 302.12,175.03 303.74,173.34 305.36,171.49 306.98,169.48 308.59,167.34 310.21,165.05 311.83,162.59 313.45,159.97 315.07,157.17 316.69,154.2 318.31,151.1 319.93,147.88 321.54,144.44 323.16,140.72 324.78,136.62 326.4,132.35 328.02,128.08 329.64,123.81 331.26,119.54 332.88,115.28 334.49,111.36 336.11,107.88 337.73,104.67 339.35,101.58 340.97,98.44 342.59,95.28 344.21,92.23 345.83,89.38 347.44,86.8 349.06,84.59 350.68,82.96 352.3,81.81 353.92,80.9 355.54,80.05 357.16,79.38 358.78,78.91 360.4,78.71 362.01,79.18 363.63,80.63 365.25,83.12 366.87,86.45 368.49,90.11 370.11,93.82 371.73,97.48 373.35,100.95 374.96,104.26 376.58,107.52 378.2,110.89 379.82,114.49 381.44,118.23 383.06,121.91 384.68,125.31 386.3,127.78 387.91,130 389.53,132.25 391.15,134.4 392.77,136.15 394.39,137.56 396.01,138.84 397.63,140.14 399.25,141.3 400.87,142.13 402.48,142.84 404.1,143.71 405.72,144.64 407.34,145.58 408.96,146.54 410.58,147.52 412.2,148.54 413.82,149.59 415.43,150.66 417.05,151.74 418.67,152.83 420.29,153.95 421.91,155.1 423.53,156.27 425.15,157.48 426.77,158.71 428.38,159.97 430,161.23 431.62,162.5 433.24,163.75 434.86,164.99 436.48,166.21 438.1,167.41 439.72,168.6 441.33,169.76 442.95,170.89 444.57,171.97 446.19,172.95 447.81,173.83 449.43,174.61 451.05,175.33 452.67,176.03 454.29,176.72 455.9,177.42 457.52,178.12 459.14,178.84 460.76,179.57 462.38,180.31 464,181.05 465.62,181.78 467.24,182.52 468.85,183.26 470.47,183.98 472.09,184.7 473.71,185.4 475.33,186.07 476.95,186.7 478.57,187.3 480.19,187.87 481.8,188.41 483.42,188.92 485.04,189.4 486.66,189.86 488.28,190.29 489.9,190.7 491.52,191.1 493.14,191.48 494.76,191.84 496.37,192.19 497.99,192.53 499.61,192.86 501.23,193.19 502.85,193.51 504.47,193.83 506.09,194.14 507.71,194.45 509.32,194.75 510.94,195.04 512.56,195.32 514.18,195.59 515.8,195.86 517.42,196.11 519.04,196.36 520.66,196.59 522.27,196.82 523.89,197.03 525.51,197.24 527.13,197.44 528.75,197.63 530.37,197.8 531.99,197.97 533.61,198.12 535.22,198.27 536.84,198.41 538.46,198.53 540.08,198.64 541.7,198.74" fill="none" stroke="#ff0000" stroke-width="2.1" stroke-linejoin="round" stroke-linecap="round"/>
<polyline points="300.5,177.54 302.12,176.2 303.74,174.7 305.36,173.05 306.98,171.24 308.59,169.27 310.21,167.16 311.83,164.9 313.45,162.48 315.07,159.88 316.69,157.1 318.31,154.17 319.93,151.12 321.54,147.93 323.16,144.57 324.78,141.02 326.4,137.3 328.02,133.49 329.64,129.63 331.26,125.81 332.88,122.1 334.49,118.49 336.11,114.95 337.73,111.48 339.35,108.05 340.97,104.68 342.59,101.46 344.21,98.5 345.83,95.8 347.44,93.41 349.06,91.36 350.68,89.68 352.3,88.32 353.92,87.2 355.54,86.2 357.16,85.26 358.78,84.47 360.4,83.91 362.01,83.59 363.63,83.76 365.25,85.1 366.87,87.77 368.49,91.22 370.11,95.1 371.73,99.3 373.35,103.73 374.96,108.93 376.58,114.04 378.2,117.84 379.82,120.56 381.44,122.93 383.06,125.5 384.68,128.7 386.3,131.85 387.91,134.26 389.53,136.34 391.15,138.26 392.77,140.08 394.39,141.7 396.01,142.59 397.63,142.09 399.25,139.74 400.87,136.43 402.48,133.46 404.1,131.34 405.72,131.21 407.34,132.25 408.96,133.43 410.58,134.79 412.2,136.18 413.82,137.58 415.43,138.98 417.05,140.39 418.67,141.79 420.29,143.21 421.91,144.63 423.53,146.05 425.15,147.48 426.77,148.91 428.38,150.34 430,151.76 431.62,153.19 433.24,154.6 434.86,156 436.48,157.38 438.1,158.68 439.72,159.9 441.33,161.03 442.95,162.11 444.57,163.11 446.19,164.07 447.81,164.98 449.43,165.86 451.05,166.74 452.67,167.62 454.29,168.49 455.9,169.37 457.52,170.24 459.14,171.12 460.76,171.99 462.38,172.86 464,173.74 465.62,174.61 467.24,175.48 468.85,176.35 470.47,177.23 472.09,178.09 473.71,178.96 475.33,179.83 476.95,180.69 478.57,181.55 480.19,182.41 481.8,183.25 483.42,184.04 485.04,184.77 486.66,185.44 488.28,186.05 489.9,186.63 491.52,187.16 493.14,187.65 494.76,188.12 496.37,188.56 497.99,188.98 499.61,189.39 501.23,189.79 502.85,190.18 504.47,190.57 506.09,190.97 507.71,191.37 509.32,191.75 510.94,192.13 512.56,192.51 514.18,192.88 515.8,193.24 517.42,193.6 519.04,193.94 520.66,194.28 522.27,194.61 523.89,194.94 525.51,195.25 527.13,195.56 528.75,195.86 530.37,196.15 531.99,196.42 533.61,196.69 535.22,196.95 536.84,197.2 538.46,197.44 540.08,197.66 541.7,197.88" fill="none" stroke="#006400" stroke-width="2.1" stroke-linejoin="round" stroke-linecap="round"/>
<polyline points="300.5,194.7 302.12,194.11 303.74,193.5 305.36,192.86 306.98,192.19 308.59,191.49 310.21,190.76 311.83,190 313.45,189.23 315.07,188.43 316.69,187.6 318.31,186.76 319.93,185.91 321.54,185.03 323.16,184.14 324.78,183.23 326.4,182.29 328.02,181.34 329.64,180.37 331.26,179.38 332.88,178.36 334.49,177.33 336.11,176.28 337.73,175.21 339.35,174.12 340.97,173.01 342.59,171.89 344.21,170.76 345.83,169.6 347.44,168.41 349.06,167.16 350.68,165.9 352.3,164.64 353.92,163.38 355.54,162.12 357.16,160.85 358.78,159.59 360.4,158.33 362.01,157.07 363.63,155.81 365.25,154.53 366.87,152.99 368.49,151.19 370.11,149.29 371.73,147.42 373.35,145.71 374.96,144.06 376.58,142.41 378.2,140.76 379.82,139.11 381.44,137.46 383.06,135.81 384.68,134.16 386.3,132.51 387.91,130.86 389.53,129.2 391.15,127.4 392.77,125.58 394.39,123.96 396.01,123.2 397.63,123.06 399.25,123.43 400.87,124.59 402.48,125.97 404.1,127.46 405.72,129.09 407.34,130.74 408.96,132.39 410.58,134.04 412.2,135.69 413.82,137.34 415.43,138.99 417.05,140.64 418.67,142.29 420.29,143.94 421.91,145.58 423.53,147.17 425.15,148.73 426.77,150.25 428.38,151.77 430,153.27 431.62,154.75 433.24,156.18 434.86,157.56 436.48,158.9 438.1,160.18 439.72,161.4 441.33,162.57 442.95,163.71 444.57,164.81 446.19,165.9 447.81,166.99 449.43,168.06 451.05,169.07 452.67,170 454.29,170.83 455.9,171.65 457.52,172.48 459.14,173.3 460.76,174.13 462.38,174.96 464,175.8 465.62,176.65 467.24,177.48 468.85,178.27 470.47,179.01 472.09,179.71 473.71,180.38 475.33,181.03 476.95,181.69 478.57,182.37 480.19,183.05 481.8,183.73 483.42,184.41 485.04,185.09 486.66,185.75 488.28,186.36 489.9,186.93 491.52,187.48 493.14,188.03 494.76,188.58 496.37,189.13 497.99,189.67 499.61,190.2 501.23,190.71 502.85,191.2 504.47,191.67 506.09,192.11 507.71,192.52 509.32,192.91 510.94,193.28 512.56,193.63 514.18,193.97 515.8,194.3 517.42,194.62 519.04,194.92 520.66,195.22 522.27,195.52 523.89,195.8 525.51,196.08 527.13,196.34 528.75,196.59 530.37,196.83 531.99,197.07 533.61,197.29 535.22,197.5 536.84,197.71 538.46,197.9 540.08,198.09 541.7,198.26" fill="none" stroke="#0000ff" stroke-width="2.1" stroke-linejoin="round" stroke-linecap="round"/>
<polyline points="300.5,168.38 302.12,166.37 303.74,164.24 305.36,162 306.98,159.65 308.59,157.21 310.21,154.71 311.83,152.13 313.45,149.39 315.07,146.4 316.69,143.08 318.31,139.57 319.93,136.01 321.54,132.41 323.16,128.77 324.78,125.11 326.4,121.44 328.02,117.76 329.64,114.07 331.26,110.37 332.88,106.67 334.49,102.98 336.11,99.25 337.73,95.42 339.35,91.41 340.97,87.15 342.59,82.3 344.21,76.91 345.83,71.27 347.44,65.65 349.06,60.34 350.68,55.13 352.3,50.11 353.92,45.59 355.54,41.77 357.16,38.55 358.78,35.78 360.4,33.31 362.01,31 363.63,28.73 365.25,26.47 366.87,24.2 368.49,21.87 370.11,20.03 371.73,19.81 373.35,21.09 374.96,23.18 376.58,26.64 378.2,31.06 379.82,36.02 381.44,41.33 383.06,47 384.68,53.51 386.3,59.64 387.91,65 389.53,69.94 391.15,74.54 392.77,78.92 394.39,83.07 396.01,86.88 397.63,90.26 399.25,93.12 400.87,95.55 402.48,97.65 404.1,99.47 405.72,101.02 407.34,102.33 408.96,103.32 410.58,104.07 412.2,104.76 413.82,105.55 415.43,106.61 417.05,108.11 418.67,109.82 420.29,111.63 421.91,113.53 423.53,115.47 425.15,117.44 426.77,119.42 428.38,121.42 430,123.45 431.62,125.5 433.24,127.73 434.86,130.25 436.48,132.92 438.1,135.59 439.72,138.09 441.33,140.28 442.95,142 444.57,143.47 446.19,144.92 447.81,146.35 449.43,147.79 451.05,149.23 452.67,150.69 454.29,152.15 455.9,153.62 457.52,155.09 459.14,156.55 460.76,158.01 462.38,159.47 464,160.85 465.62,162.15 467.24,163.4 468.85,164.63 470.47,165.86 472.09,167.08 473.71,168.29 475.33,169.47 476.95,170.63 478.57,171.76 480.19,172.85 481.8,173.9 483.42,174.92 485.04,175.88 486.66,176.79 488.28,177.64 489.9,178.43 491.52,179.19 493.14,179.91 494.76,180.61 496.37,181.27 497.99,181.91 499.61,182.52 501.23,183.11 502.85,183.68 504.47,184.23 506.09,184.76 507.71,185.28 509.32,185.78 510.94,186.28 512.56,186.77 514.18,187.27 515.8,187.76 517.42,188.25 519.04,188.74 520.66,189.22 522.27,189.69 523.89,190.16 525.51,190.61 527.13,191.06 528.75,191.49 530.37,191.92 531.99,192.34 533.61,192.75 535.22,193.16 536.84,193.56 538.46,193.95 540.08,194.33 541.7,194.7" fill="none" stroke="#ff0000" stroke-width="2.1" stroke-linejoin="round" stroke-linecap="round"/>
<polyline points="300.5,194.7 302.12,193.99 303.74,193.27 305.36,192.53 306.98,191.78 308.59,191.01 310.21,190.21 311.83,189.4 313.45,188.57 315.07,187.73 316.69,186.88 318.31,186.01 319.93,185.11 321.54,184.18 323.16,183.23 324.78,182.26 326.4,181.23 328.02,180.12 329.64,178.94 331.26,177.7 332.88,176.39 334.49,175.04 336.11,173.63 337.73,172.17 339.35,170.65 340.97,169.07 342.59,167.46 344.21,165.82 345.83,164.16 347.44,162.49 349.06,160.81 350.68,159.12 352.3,157.4 353.92,155.65 355.54,153.87 357.16,152.04 358.78,150.12 360.4,148.07 362.01,145.91 363.63,143.62 365.25,141.22 366.87,138.77 368.49,136.3 370.11,133.82 371.73,131.33 373.35,128.83 374.96,126.33 376.58,123.82 378.2,121.31 379.82,118.76 381.44,116.18 383.06,113.54 384.68,110.88 386.3,108.19 387.91,105.5 389.53,102.8 391.15,100.09 392.77,97.37 394.39,94.65 396.01,91.92 397.63,89.22 399.25,86.67 400.87,84.23 402.48,82.33 404.1,81.44 405.72,81.34 407.34,81.95 408.96,83.17 410.58,84.57 412.2,86.28 413.82,88.47 415.43,90.8 417.05,93.15 418.67,95.51 420.29,97.83 421.91,100.1 423.53,102.38 425.15,104.66 426.77,106.9 428.38,109.07 430,111.16 431.62,113.15 433.24,115.09 434.86,116.99 436.48,118.87 438.1,120.76 439.72,122.61 441.33,124.43 442.95,126.25 444.57,128.1 446.19,130.06 447.81,132.32 449.43,134.71 451.05,137.08 452.67,139.24 454.29,141.09 455.9,142.84 457.52,144.51 459.14,146.1 460.76,147.64 462.38,149.12 464,150.6 465.62,152.07 467.24,153.52 468.85,154.94 470.47,156.34 472.09,157.72 473.71,159.08 475.33,160.43 476.95,161.76 478.57,163.07 480.19,164.35 481.8,165.61 483.42,166.86 485.04,168.09 486.66,169.31 488.28,170.51 489.9,171.69 491.52,172.83 493.14,173.94 494.76,175.01 496.37,176.03 497.99,177 499.61,177.93 501.23,178.83 502.85,179.72 504.47,180.59 506.09,181.43 507.71,182.23 509.32,182.98 510.94,183.69 512.56,184.39 514.18,185.07 515.8,185.74 517.42,186.39 519.04,187.03 520.66,187.67 522.27,188.3 523.89,188.92 525.51,189.54 527.13,190.16 528.75,190.75 530.37,191.34 531.99,191.91 533.61,192.46 535.22,192.98 536.84,193.46 538.46,193.9 540.08,194.31 541.7,194.7" fill="none" stroke="#0000ff" stroke-width="2.1" stroke-linejoin="round" stroke-linecap="round"/>
<polyline points="300.5,170.31 302.12,168.7 303.74,166.97 305.36,165.07 306.98,162.96 308.59,160.58 310.21,158.03 311.83,155.4 313.45,152.67 315.07,149.87 316.69,146.97 318.31,144.04 319.93,141.07 321.54,138.07 323.16,135.02 324.78,131.91 326.4,128.75 328.02,125.53 329.64,122.24 331.26,118.86 332.88,115.37 334.49,111.77 336.11,108.1 337.73,104.37 339.35,100.63 340.97,96.9 342.59,93.14 344.21,89.29 345.83,85.35 347.44,81.27 349.06,75.79 350.68,69.3 352.3,63.13 353.92,58.23 355.54,53.76 357.16,49.68 358.78,46.09 360.4,43.04 362.01,40.16 363.63,37.43 365.25,34.92 366.87,32.64 368.49,30.34 370.11,27.99 371.73,27.19 373.35,28.8 374.96,31.4 376.58,34.68 378.2,38.82 379.82,44.03 381.44,50.8 383.06,58.07 384.68,62.91 386.3,67.41 387.91,71.79 389.53,76.09 391.15,80.36 392.77,84.64 394.39,88.88 396.01,93.04 397.63,97.1 399.25,101 400.87,103.73 402.48,105.58 404.1,106.85 405.72,106.19 407.34,103.2 408.96,99.09 410.58,95.52 412.2,92.68 413.82,91.74 415.43,92.99 417.05,95.31 418.67,97.75 420.29,100.27 421.91,102.95 423.53,105.96 425.15,108.22 426.77,110.13 428.38,111.91 430,113.63 431.62,115.34 433.24,117.13 434.86,119.04 436.48,121 438.1,122.97 439.72,124.92 441.33,126.82 442.95,128.69 444.57,130.54 446.19,132.36 447.81,134.15 449.43,135.91 451.05,137.64 452.67,139.33 454.29,140.98 455.9,142.58 457.52,144.14 459.14,145.66 460.76,147.15 462.38,148.62 464,150.08 465.62,151.53 467.24,152.96 468.85,154.37 470.47,155.78 472.09,157.16 473.71,158.54 475.33,159.89 476.95,161.23 478.57,162.56 480.19,163.87 481.8,165.16 483.42,166.43 485.04,167.67 486.66,168.87 488.28,170.05 489.9,171.2 491.52,172.32 493.14,173.41 494.76,174.46 496.37,175.49 497.99,176.48 499.61,177.44 501.23,178.36 502.85,179.26 504.47,180.12 506.09,180.96 507.71,181.78 509.32,182.56 510.94,183.33 512.56,184.07 514.18,184.79 515.8,185.49 517.42,186.16 519.04,186.82 520.66,187.46 522.27,188.08 523.89,188.7 525.51,189.31 527.13,189.91 528.75,190.49 530.37,191.07 531.99,191.63 533.61,192.18 535.22,192.72 536.84,193.24 538.46,193.74 540.08,194.23 541.7,194.7" fill="none" stroke="#006400" stroke-width="2.1" stroke-linejoin="round" stroke-linecap="round"/>
</g>
<rect x="430" y="126.5" width="35" height="14.5" fill="#fff"/>
<text x="435.8" y="137" font-size="11" fill="#000" stroke="#000" stroke-width="0.25" textLength="24.2" lengthAdjust="spacingAndGlyphs">100kΩ</text>
<rect x="404.5" y="142.7" width="32.5" height="13.8" fill="#fff"/>
<text x="408.9" y="153.1" font-size="11" fill="#000" stroke="#000" stroke-width="0.25" textLength="25" lengthAdjust="spacingAndGlyphs">200kΩ</text>
<rect x="392" y="161.5" width="35" height="14.8" fill="#fff"/>
<text x="396.8" y="173.4" font-size="11" fill="#000" stroke="#000" stroke-width="0.25" textLength="25.2" lengthAdjust="spacingAndGlyphs">500kΩ</text>
<rect x="392" y="184.2" width="35" height="16.3" fill="#fff"/>
<text x="401" y="194.4" font-size="11" fill="#000" stroke="#000" stroke-width="0.25" textLength="17.6" lengthAdjust="spacingAndGlyphs">1MΩ</text>
<rect x="447" y="89" width="89" height="35.5" fill="#fff"/>
<line x1="449.6" y1="96" x2="471.4" y2="96" stroke="#006400" stroke-width="2.2"/>
<text x="474.8" y="99.8" font-size="10.3" fill="#000" stroke="#000" stroke-width="0.25" textLength="58" lengthAdjust="spacingAndGlyphs">Hybrid (NSPD)</text>
<line x1="449.6" y1="107.4" x2="471.4" y2="107.4" stroke="#ff0000" stroke-width="2.2"/>
<text x="474.8" y="111.2" font-size="10.3" fill="#000" stroke="#000" stroke-width="0.25" textLength="25" lengthAdjust="spacingAndGlyphs">CCDD</text>
<line x1="449.6" y1="118.4" x2="471.4" y2="118.4" stroke="#0000ff" stroke-width="2.2"/>
<text x="474.8" y="122.2" font-size="10.3" fill="#000" stroke="#000" stroke-width="0.25" textLength="49" lengthAdjust="spacingAndGlyphs">Diode-based</text>
<line x1="375" y1="19.1" x2="538.5" y2="19.1" stroke="#ff2020" stroke-width="1.2" stroke-dasharray="1 1"/>
<line x1="377" y1="27.4" x2="541.7" y2="27.4" stroke="#0c6c0c" stroke-width="1.3" stroke-dasharray="1 1"/>
<line x1="404.62" y1="81.4" x2="541.7" y2="81.4" stroke="#0000ff" stroke-width="1.4" stroke-dasharray="1.1 1"/>
<line x1="334.4" y1="15.5" x2="334.4" y2="102.6" stroke="#ff3535" stroke-width="1.6" stroke-dasharray="1.1 1"/>
<line x1="413.5" y1="15.5" x2="413.5" y2="104.4" stroke="#ff3535" stroke-width="1.6" stroke-dasharray="1.1 1"/>
<line x1="338" y1="49.8" x2="338" y2="91.5" stroke="#1e7d1e" stroke-width="1.25" stroke-dasharray="1.1 1"/>
<line x1="423.6" y1="49.8" x2="423.6" y2="96.4" stroke="#1e7d1e" stroke-width="1.25" stroke-dasharray="1.1 1"/>
<rect x="470" y="14" width="67" height="10.5" fill="#fff"/>
<text x="473" y="23" font-size="9.2" fill="#ff2020" stroke="#ff2020" stroke-width="0.25" textLength="61.3" lengthAdjust="spacingAndGlyphs">37.87% Peak PCE</text>
<rect x="417.5" y="25" width="66.5" height="11" fill="#fff"/>
<text x="420.3" y="34.1" font-size="9.2" fill="#1e7d1e" stroke="#1e7d1e" stroke-width="0.25" textLength="60.8" lengthAdjust="spacingAndGlyphs">36.18% Peak PCE</text>
<rect x="463.5" y="71.5" width="68" height="11" fill="#fff"/>
<text x="465.8" y="80" font-size="9.2" fill="#1818f4" stroke="#1818f4" stroke-width="0.25" textLength="60.6" lengthAdjust="spacingAndGlyphs">25.16% Peak PCE</text>
<rect x="381.5" y="11.5" width="25" height="20" fill="#fff"/>
<line x1="335.5" y1="15.3" x2="381" y2="15.3" stroke="#ff0000" stroke-width="1.6"/>
<polyline points="340.2,11.6 334.6,15.3 340.2,19" fill="none" stroke="#ff0000" stroke-width="1.6"/>
<line x1="407" y1="15.3" x2="412.5" y2="15.3" stroke="#ff0000" stroke-width="1.6"/>
<polyline points="408.2,11.8 413,15.3 408.2,18.8" fill="none" stroke="#ff0000" stroke-width="1.6"/>
<text x="393.6" y="19" font-size="9.5" fill="#ff2020" stroke="#ff2020" stroke-width="0.25" text-anchor="middle" textLength="4.6" lengthAdjust="spacingAndGlyphs">9</text>
<text x="393.7" y="30" font-size="9.5" fill="#ff2020" stroke="#ff2020" stroke-width="0.25" text-anchor="middle" textLength="15.5" lengthAdjust="spacingAndGlyphs">dBm</text>
<rect x="366.5" y="45.2" width="29.8" height="14.1" fill="#fff"/>
<line x1="339.5" y1="49.8" x2="360.6" y2="49.8" stroke="#006400" stroke-width="1.6"/>
<polyline points="343.6,46.2 338.6,49.8 343.6,53.4" fill="none" stroke="#006400" stroke-width="1.6"/>
<line x1="396.5" y1="49.8" x2="422.8" y2="49.8" stroke="#006400" stroke-width="1.6"/>
<polyline points="418.6,46.2 423.6,49.8 418.6,53.4" fill="none" stroke="#006400" stroke-width="1.6"/>
<text x="367.4" y="56.2" font-size="10" fill="#1e7d1e" stroke="#1e7d1e" stroke-width="0.25" textLength="24.5" lengthAdjust="spacingAndGlyphs">11dBm</text>
<rect x="396.5" y="107.9" width="25.2" height="15.2" fill="#fff"/>
<text x="408.7" y="113.4" font-size="7.3" fill="#3030ff" stroke="#3030ff" stroke-width="0.25" text-anchor="middle" textLength="3.6" lengthAdjust="spacingAndGlyphs">5</text>
<text x="408.5" y="122.5" font-size="6.8" fill="#3030ff" stroke="#3030ff" stroke-width="0.25" text-anchor="middle" textLength="12.8" lengthAdjust="spacingAndGlyphs">dBm</text>
<line x1="388.8" y1="110.2" x2="388.8" y2="115.6" stroke="#0000ff" stroke-width="1.1" stroke-dasharray="1 1"/>
<line x1="389.8" y1="116.2" x2="395.3" y2="116.2" stroke="#0000ff" stroke-width="1.5"/>
<polyline points="392.7,112.9 389.3,116.2 392.7,119.5" fill="none" stroke="#0000ff" stroke-width="1.5"/>
<line x1="421.4" y1="116.2" x2="427" y2="116.2" stroke="#0000ff" stroke-width="1.5"/>
<polyline points="424,112.9 427.4,116.2 424,119.5" fill="none" stroke="#0000ff" stroke-width="1.5"/>
<rect x="300.5" y="9.8" width="241.2" height="192.8" fill="none" stroke="#000" stroke-width="2"/>
<line x1="300.5" y1="202.6" x2="300.5" y2="199.6" stroke="#000" stroke-width="0.9"/>
<line x1="320.6" y1="202.6" x2="320.6" y2="199.6" stroke="#000" stroke-width="0.9"/>
<line x1="340.7" y1="202.6" x2="340.7" y2="199.6" stroke="#000" stroke-width="0.9"/>
<line x1="360.8" y1="202.6" x2="360.8" y2="199.6" stroke="#000" stroke-width="0.9"/>
<line x1="380.9" y1="202.6" x2="380.9" y2="199.6" stroke="#000" stroke-width="0.9"/>
<line x1="401" y1="202.6" x2="401" y2="199.6" stroke="#000" stroke-width="0.9"/>
<line x1="421.1" y1="202.6" x2="421.1" y2="199.6" stroke="#000" stroke-width="0.9"/>
<line x1="441.2" y1="202.6" x2="441.2" y2="199.6" stroke="#000" stroke-width="0.9"/>
<line x1="461.3" y1="202.6" x2="461.3" y2="199.6" stroke="#000" stroke-width="0.9"/>
<line x1="481.4" y1="202.6" x2="481.4" y2="199.6" stroke="#000" stroke-width="0.9"/>
<line x1="501.5" y1="202.6" x2="501.5" y2="199.6" stroke="#000" stroke-width="0.9"/>
<line x1="521.6" y1="202.6" x2="521.6" y2="199.6" stroke="#000" stroke-width="0.9"/>
<line x1="541.7" y1="202.6" x2="541.7" y2="199.6" stroke="#000" stroke-width="0.9"/>
<line x1="300.5" y1="202.6" x2="303.5" y2="202.6" stroke="#000" stroke-width="0.9"/>
<line x1="300.5" y1="190.55" x2="303.5" y2="190.55" stroke="#000" stroke-width="0.9"/>
<line x1="300.5" y1="178.5" x2="303.5" y2="178.5" stroke="#000" stroke-width="0.9"/>
<line x1="300.5" y1="166.45" x2="303.5" y2="166.45" stroke="#000" stroke-width="0.9"/>
<line x1="300.5" y1="154.4" x2="303.5" y2="154.4" stroke="#000" stroke-width="0.9"/>
<line x1="300.5" y1="142.35" x2="303.5" y2="142.35" stroke="#000" stroke-width="0.9"/>
<line x1="300.5" y1="130.3" x2="303.5" y2="130.3" stroke="#000" stroke-width="0.9"/>
<line x1="300.5" y1="118.25" x2="303.5" y2="118.25" stroke="#000" stroke-width="0.9"/>
<line x1="300.5" y1="106.2" x2="303.5" y2="106.2" stroke="#000" stroke-width="0.9"/>
<line x1="300.5" y1="94.15" x2="303.5" y2="94.15" stroke="#000" stroke-width="0.9"/>
<line x1="300.5" y1="82.1" x2="303.5" y2="82.1" stroke="#000" stroke-width="0.9"/>
<line x1="300.5" y1="70.05" x2="303.5" y2="70.05" stroke="#000" stroke-width="0.9"/>
<line x1="300.5" y1="58" x2="303.5" y2="58" stroke="#000" stroke-width="0.9"/>
<line x1="300.5" y1="45.95" x2="303.5" y2="45.95" stroke="#000" stroke-width="0.9"/>
<line x1="300.5" y1="33.9" x2="303.5" y2="33.9" stroke="#000" stroke-width="0.9"/>
<line x1="300.5" y1="21.85" x2="303.5" y2="21.85" stroke="#000" stroke-width="0.9"/>
<line x1="300.5" y1="9.8" x2="303.5" y2="9.8" stroke="#000" stroke-width="0.9"/>
<text x="299.2" y="206.4" font-size="11" fill="#000" stroke="#000" stroke-width="0.25" text-anchor="end" textLength="5.2" lengthAdjust="spacingAndGlyphs">0</text>
<text x="299.2" y="182.3" font-size="11" fill="#000" stroke="#000" stroke-width="0.25" text-anchor="end" textLength="5.2" lengthAdjust="spacingAndGlyphs">5</text>
<text x="299.2" y="158.2" font-size="11" fill="#000" stroke="#000" stroke-width="0.25" text-anchor="end" textLength="10.4" lengthAdjust="spacingAndGlyphs">10</text>
<text x="299.2" y="134.1" font-size="11" fill="#000" stroke="#000" stroke-width="0.25" text-anchor="end" textLength="10.4" lengthAdjust="spacingAndGlyphs">15</text>
<text x="299.2" y="110" font-size="11" fill="#000" stroke="#000" stroke-width="0.25" text-anchor="end" textLength="10.4" lengthAdjust="spacingAndGlyphs">20</text>
<text x="299.2" y="85.9" font-size="11" fill="#000" stroke="#000" stroke-width="0.25" text-anchor="end" textLength="10.4" lengthAdjust="spacingAndGlyphs">25</text>
<text x="299.2" y="61.8" font-size="11" fill="#000" stroke="#000" stroke-width="0.25" text-anchor="end" textLength="10.4" lengthAdjust="spacingAndGlyphs">30</text>
<text x="299.2" y="37.7" font-size="11" fill="#000" stroke="#000" stroke-width="0.25" text-anchor="end" textLength="10.4" lengthAdjust="spacingAndGlyphs">35</text>
<text x="299.2" y="13.6" font-size="11" fill="#000" stroke="#000" stroke-width="0.25" text-anchor="end" textLength="10.4" lengthAdjust="spacingAndGlyphs">40</text>
<text x="303.9" y="216" font-size="10.8" fill="#000" stroke="#000" stroke-width="0.25" text-anchor="middle" textLength="16.5" lengthAdjust="spacingAndGlyphs">−25</text>
<text x="344.1" y="216" font-size="10.8" fill="#000" stroke="#000" stroke-width="0.25" text-anchor="middle" textLength="16.5" lengthAdjust="spacingAndGlyphs">−20</text>
<text x="384.3" y="216" font-size="10.8" fill="#000" stroke="#000" stroke-width="0.25" text-anchor="middle" textLength="16.5" lengthAdjust="spacingAndGlyphs">−15</text>
<text x="424.5" y="216" font-size="10.8" fill="#000" stroke="#000" stroke-width="0.25" text-anchor="middle" textLength="16.5" lengthAdjust="spacingAndGlyphs">−10</text>
<text x="464.7" y="216" font-size="10.8" fill="#000" stroke="#000" stroke-width="0.25" text-anchor="middle" textLength="10" lengthAdjust="spacingAndGlyphs">−5</text>
<text x="503.3" y="216" font-size="10.8" fill="#000" stroke="#000" stroke-width="0.25" text-anchor="middle" textLength="5.2" lengthAdjust="spacingAndGlyphs">0</text>
<text x="543.5" y="216" font-size="10.8" fill="#000" stroke="#000" stroke-width="0.25" text-anchor="middle" textLength="5.2" lengthAdjust="spacingAndGlyphs">5</text>
<text x="405.5" y="230.2" font-size="10" fill="#000" stroke="#000" stroke-width="0.25" textLength="6.2" lengthAdjust="spacingAndGlyphs">P</text>
<text x="411.5" y="231.2" font-size="6" fill="#000" stroke="#000" stroke-width="0.25" textLength="5.6" lengthAdjust="spacingAndGlyphs">IN</text>
<text x="421.6" y="230.2" font-size="10" fill="#000" stroke="#000" stroke-width="0.25" textLength="24.2" lengthAdjust="spacingAndGlyphs">(dBm)</text>
<text x="422" y="244.5" font-size="9.5" fill="#000" stroke="#000" stroke-width="0.25" text-anchor="middle" textLength="11.5" lengthAdjust="spacingAndGlyphs">(b)</text>
<text transform="translate(283.3,122.2) rotate(-90)" font-size="9.8" fill="#000" stroke="#000" stroke-width="0.2" textLength="36.8" lengthAdjust="spacingAndGlyphs">PCE (%)</text>
</g>
</svg>
</body>
</html>
